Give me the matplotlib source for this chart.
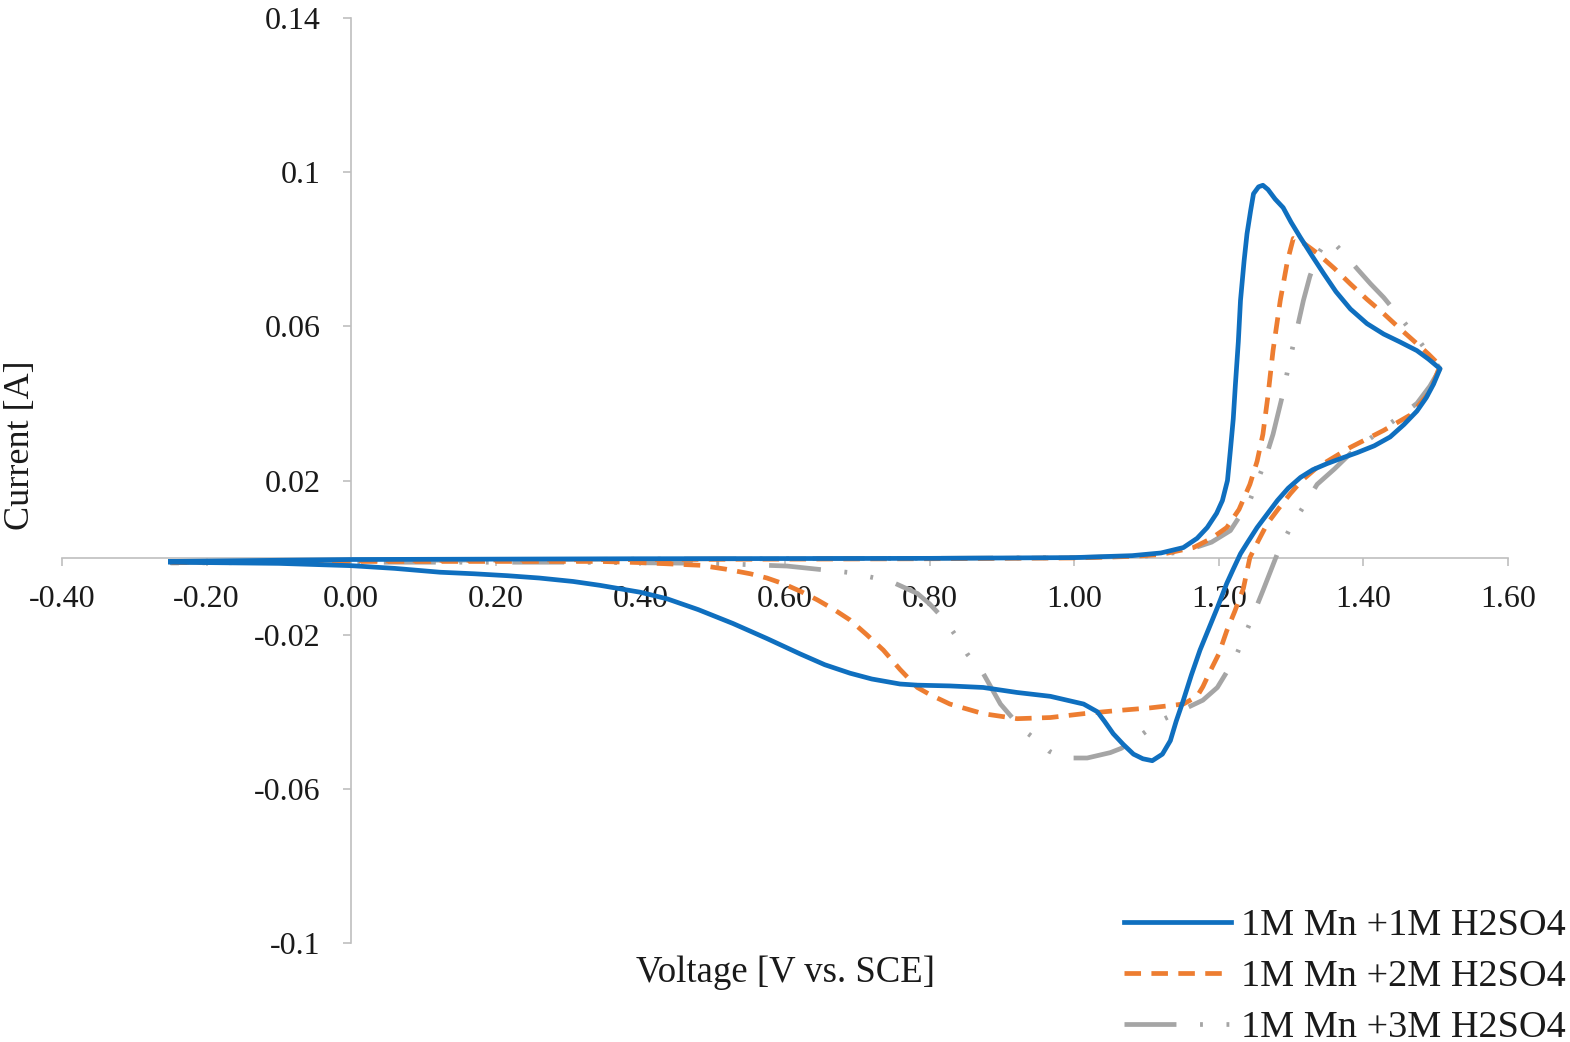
import numpy as np
import matplotlib
matplotlib.use("Agg")
import matplotlib.pyplot as plt

plt.rcParams['font.family'] = ['Liberation Serif', 'DejaVu Serif']

# 1M Mn + 1M H2SO4 (forward scan then reverse scan)
v1 = [-0.25, 0.00, 0.40, 0.80, 1.00, 1.08, 1.12, 1.151, 1.17, 1.184, 1.197, 1.205, 1.212,
      1.216, 1.220, 1.223, 1.227, 1.230, 1.235, 1.239, 1.244, 1.248, 1.255, 1.261, 1.268,
      1.278, 1.289, 1.300, 1.313, 1.330, 1.345, 1.362, 1.382, 1.405, 1.428, 1.450, 1.474,
      1.490, 1.506,
      1.497, 1.487, 1.474, 1.456, 1.437, 1.415, 1.391, 1.370, 1.350, 1.330, 1.313, 1.296,
      1.281, 1.267, 1.253, 1.240, 1.230, 1.220, 1.211, 1.198, 1.186, 1.174, 1.162, 1.151,
      1.141, 1.133, 1.122, 1.108, 1.095, 1.082, 1.068, 1.054, 1.042, 1.032, 1.013, 0.990,
      0.967, 0.921, 0.874, 0.828, 0.783, 0.759, 0.720, 0.690, 0.655, 0.621, 0.575, 0.528,
      0.480, 0.437, 0.400, 0.344, 0.307, 0.260, 0.216, 0.170, 0.123, 0.060, 0.000, -0.100,
      -0.250]
i1 = [-0.0010, -0.0005, -0.0003, -0.0002, 0.0000, 0.0005, 0.0012, 0.0026, 0.0050, 0.0078,
      0.0115, 0.0148, 0.0200, 0.0278, 0.0360, 0.0450, 0.0560, 0.0667, 0.0770, 0.0840,
      0.0900, 0.0944, 0.0962, 0.0966, 0.0955, 0.0930, 0.0908, 0.0870, 0.0830, 0.0780,
      0.0737, 0.0690, 0.0645, 0.0607, 0.0580, 0.0560, 0.0537, 0.0515, 0.0490,
      0.0450, 0.0415, 0.0380, 0.0345, 0.0313, 0.0290, 0.0272, 0.0258, 0.0244, 0.0228,
      0.0208, 0.0180, 0.0148, 0.0113, 0.0078, 0.0040, 0.0010, -0.0030, -0.0067, -0.0130,
      -0.0185, -0.0240, -0.0305, -0.0370, -0.0425, -0.0475, -0.0510, -0.0527, -0.0522,
      -0.0510, -0.0485, -0.0457, -0.0425, -0.0400, -0.0380, -0.0370, -0.0360, -0.0350,
      -0.0337, -0.0333, -0.0331, -0.0328, -0.0315, -0.0300, -0.0278, -0.0250, -0.0210,
      -0.0171, -0.0135, -0.0107, -0.0090, -0.0072, -0.0062, -0.0053, -0.0047, -0.0042,
      -0.0038, -0.0028, -0.0021, -0.0015, -0.0012]

# 1M Mn + 2M H2SO4
v2 = [-0.25, 0.00, 0.40, 0.80, 1.00, 1.08, 1.12, 1.165, 1.19, 1.211, 1.228, 1.243, 1.253,
      1.261, 1.268, 1.275, 1.285, 1.295, 1.303, 1.318, 1.336, 1.360, 1.382, 1.405, 1.428,
      1.450, 1.474, 1.490, 1.506,
      1.492, 1.465, 1.428, 1.382, 1.336, 1.315, 1.299, 1.283, 1.267, 1.255, 1.243, 1.234,
      1.222, 1.211, 1.200, 1.188, 1.178, 1.170, 1.151, 1.105, 1.059, 1.013, 0.967, 0.921,
      0.874, 0.828, 0.800, 0.783, 0.759, 0.736, 0.713, 0.690, 0.668, 0.645, 0.622, 0.598,
      0.575, 0.552, 0.518, 0.483, 0.400, 0.344, 0.000, -0.250]
i2 = [-0.0012, -0.0008, -0.0005, -0.0003, -0.0001, 0.0003, 0.0008, 0.0026, 0.0050, 0.0078,
      0.0125, 0.0190, 0.0250, 0.0320, 0.0420, 0.0537, 0.0667, 0.0770, 0.0828, 0.0815,
      0.0790, 0.0750, 0.0710, 0.0670, 0.0633, 0.0595, 0.0555, 0.0528, 0.0498,
      0.0430, 0.0370, 0.0330, 0.0286, 0.0234, 0.0200, 0.0166, 0.0128, 0.0088, 0.0045,
      0.0000, -0.0080, -0.0140, -0.0190, -0.0250, -0.0295, -0.0335, -0.0360, -0.0380,
      -0.0390, -0.0397, -0.0405, -0.0415, -0.0418, -0.0405, -0.0380, -0.0355, -0.0337,
      -0.0290, -0.0240, -0.0200, -0.0162, -0.0135, -0.0110, -0.0088, -0.0068, -0.0053,
      -0.0042, -0.0030, -0.0020, -0.0013, -0.0010, -0.0010, -0.0012]

# 1M Mn + 3M H2SO4
v3 = [-0.25, 0.00, 0.40, 0.80, 1.00, 1.10, 1.15, 1.19, 1.216, 1.243, 1.260, 1.275, 1.288,
      1.299, 1.309, 1.317, 1.326, 1.338, 1.350, 1.360, 1.375, 1.391, 1.410, 1.428, 1.450,
      1.474, 1.490, 1.506,
      1.492, 1.474, 1.437, 1.410, 1.382, 1.360, 1.336, 1.318, 1.299, 1.281, 1.261, 1.243,
      1.225, 1.210, 1.198, 1.178, 1.150, 1.123, 1.100, 1.082, 1.065, 1.050, 1.018, 0.985,
      0.965, 0.949, 0.935, 0.921, 0.898, 0.874, 0.852, 0.838, 0.819, 0.800, 0.783, 0.750,
      0.722, 0.690, 0.603, 0.500, 0.300, 0.000, -0.250]
i3 = [-0.0013, -0.0008, -0.0004, -0.0002, 0.0000, 0.0004, 0.0015, 0.0040, 0.0070, 0.0148,
      0.0230, 0.0320, 0.0420, 0.0520, 0.0600, 0.0667, 0.0730, 0.0790, 0.0825, 0.0815,
      0.0785, 0.0750, 0.0710, 0.0675, 0.0625, 0.0570, 0.0530, 0.0490,
      0.0445, 0.0400, 0.0348, 0.0310, 0.0270, 0.0230, 0.0190, 0.0135, 0.0078, 0.0010,
      -0.0086, -0.0170, -0.0250, -0.0300, -0.0337, -0.0370, -0.0395, -0.0420, -0.0450,
      -0.0475, -0.0495, -0.0506, -0.0520, -0.0520, -0.0502, -0.0475, -0.0455, -0.0430,
      -0.0380, -0.0300, -0.0250, -0.0207, -0.0158, -0.0120, -0.0093, -0.0065, -0.0052,
      -0.0039, -0.0022, -0.0015, -0.0012, -0.0012, -0.0014]

labels = ['1M Mn +1M H2SO4', '1M Mn +2M H2SO4', '1M Mn +3M H2SO4']
xticks = [-0.40, -0.20, 0.00, 0.20, 0.40, 0.60, 0.80, 1.00, 1.20, 1.40, 1.60]
yticks = [-0.1, -0.06, -0.02, 0.02, 0.06, 0.1, 0.14]
ytick_labels = ['-0.1', '-0.06', '-0.02', '0.02', '0.06', '0.1', '0.14']

fig = plt.figure(figsize=(15.7, 10.42), dpi=100)
ax = fig.add_axes([62/1570, 99/1042, 1446/1570, 925/1042])

lw = 3.4
ax.plot(v3, i3, color='#A5A5A5', lw=lw, dashes=(11, 5, 0.6, 5, 0.6, 5), label=labels[2],
        zorder=2, solid_joinstyle='round', dash_joinstyle='round')
ax.plot(v2, i2, color='#ED7D31', lw=lw, dashes=(3.5, 2.2), label=labels[1], zorder=3,
        dash_joinstyle='round')
ax.plot(v1, i1, color='#0F6FBF', lw=lw, label=labels[0], zorder=4, solid_joinstyle='round')

ax.set_xlim(-0.4, 1.6)
ax.set_ylim(-0.1, 0.14)
ax.spines['left'].set_position(('data', 0))
ax.spines['bottom'].set_position(('data', 0))
ax.spines['top'].set_visible(False)
ax.spines['right'].set_visible(False)
for s in ['left', 'bottom']:
    ax.spines[s].set_color('#BFBFBF')
    ax.spines[s].set_linewidth(1.2)
    ax.spines[s].set_zorder(1)

ax.set_xticks(xticks)
ax.set_xticklabels(['%.2f' % t for t in xticks])
ax.set_yticks(yticks)
ax.set_yticklabels(ytick_labels)
ax.tick_params(axis='both', direction='out', length=6, width=1.2, color='#BFBFBF',
               labelsize=23, labelcolor='#1a1a1a')
ax.tick_params(axis='x', pad=14)
ax.tick_params(axis='y', pad=16)

fig.text(20/1570, 1 - 445/1042, 'Current [A]', rotation=90, ha='center', va='center',
         fontsize=26, color='#1a1a1a')
fig.text(785/1570, 1 - 973/1042, 'Voltage [V vs. SCE]', ha='center', va='center',
         fontsize=26.5, color='#1a1a1a')

handles, labs = ax.get_legend_handles_labels()
order = [2, 1, 0]
fig.legend([handles[k] for k in order], [labs[k] for k in order],
           loc='lower right', bbox_to_anchor=(1566/1570, -3/1042), frameon=False,
           fontsize=27.5, handlelength=2.8, handletextpad=0.27, labelspacing=0.42,
           borderpad=0.0, borderaxespad=0.0, labelcolor='#1a1a1a')

fig.savefig('out.png', dpi=100)
